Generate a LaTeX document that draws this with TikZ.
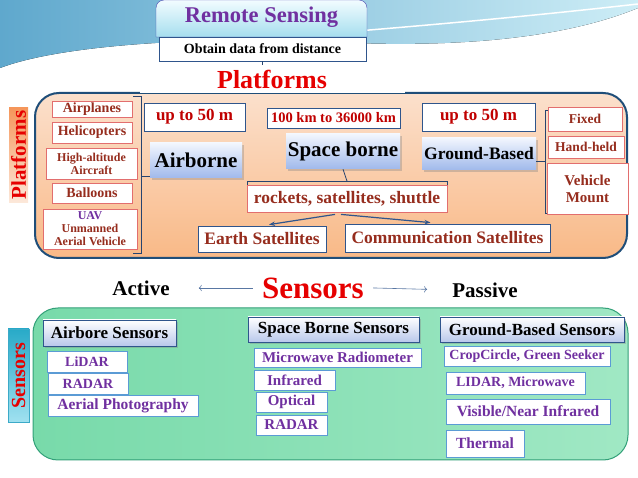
\documentclass[tikz,border=0pt]{standalone}
\usepackage{fontspec}
\setmainfont{Liberation Serif}
\usetikzlibrary{shadows}
\usetikzlibrary{arrows.meta}
\definecolor{plred}{RGB}{150,45,30}
\definecolor{vivred}{RGB}{192,0,0}
\definecolor{tred}{RGB}{230,0,0}
\definecolor{tpurple}{RGB}{112,48,160}
\definecolor{frameblue}{RGB}{31,78,121}
\definecolor{boxblue}{RGB}{47,85,140}
\definecolor{pinkline}{RGB}{226,110,110}
\definecolor{skyline}{RGB}{91,155,213}
\definecolor{skyL}{RGB}{95,168,205}
\definecolor{skyR}{RGB}{205,237,246}
\definecolor{titletop}{RGB}{242,252,255}
\definecolor{titlebot}{RGB}{165,222,238}
\definecolor{gradin}{RGB}{160,185,235}
\definecolor{gradout}{RGB}{242,246,254}
\definecolor{headbot}{RGB}{185,200,235}
\definecolor{peachtop}{RGB}{251,224,204}
\definecolor{peachmid}{RGB}{250,205,170}
\definecolor{peachbot}{RGB}{249,185,135}
\definecolor{plabtop}{RGB}{245,150,90}
\definecolor{plabbot}{RGB}{252,232,218}
\definecolor{greenline}{RGB}{50,160,120}
\definecolor{greenL}{RGB}{120,218,170}
\definecolor{greenM}{RGB}{30,185,118}
\definecolor{greenR}{RGB}{160,232,196}
\definecolor{slabline}{RGB}{60,170,200}
\definecolor{slabtop}{RGB}{40,170,200}
\definecolor{slabbot}{RGB}{160,225,240}
\tikzset{fs/.style={font=\bfseries\fontsize{#1}{#1}\selectfont},
         every node/.style={align=center,inner sep=0pt},
         wbox/.style={draw=boxblue,fill=white,line width=0.8pt},
         pbox/.style={draw=pinkline,fill=white,line width=0.8pt,text=plred},
         sbox/.style={draw=skyline,fill=white,line width=0.8pt,text=tpurple},
         gradbox/.style={top color=gradout,bottom color=gradin,
                         drop shadow={opacity=0.35,shadow xshift=2pt,shadow yshift=-2pt}},
         headbox/.style={draw=boxblue,line width=0.8pt,top color=white,bottom color=headbot,
                         drop shadow={opacity=0.35,shadow xshift=2pt,shadow yshift=-2pt}},
         link/.style={draw=boxblue!80!black,line width=0.8pt},
         arr/.style={-{Stealth[length=6pt]},draw=boxblue,line width=1.2pt},
         thinarr/.style={-{To[length=3pt]},draw=boxblue!80,line width=0.6pt},
         }
\begin{document}
\begin{tikzpicture}[x=1pt,y=-1pt]
\useasboundingbox (0,0) rectangle (638,478);
\fill[left color=skyL,right color=skyR]
  (0,0) -- (638,0) -- (638,8) .. controls (560,40) and (450,48) .. (330,42)
  .. controls (200,36) and (60,45) .. (0,68) -- cycle;
\draw[white,line width=1.5pt] (0,72) .. controls (120,42) and (320,40) .. (638,4);
\draw[draw=gray!60!blue,top color=titletop,bottom color=titlebot]
  (156,37) [rounded corners=8pt] -- (156,0) -- (367,0) [sharp corners] -- (367,37) -- cycle;
\node[fs=22.5,text=tpurple] (rs) at (261.5,17) {Remote Sensing};
\node[wbox,fs=14,minimum width=207,minimum height=24] (obtain) at (262.5,49) {Obtain data from distance};

\node[draw=frameblue,line width=2pt,rounded corners=24pt,minimum width=592,minimum height=165,
      top color=peachtop,middle color=peachmid,bottom color=peachbot]
      (pframe) at (331,175.5) {};
\node[fs=26,text=tred,fill=white,minimum width=265,minimum height=28] (ptitle) at (272,79) {Platforms};
\draw[link] (obtain.south) -- (obtain.south |- ptitle.north);
\node[fs=21,text=tred,rotate=90,minimum width=95,minimum height=19,
      top color=plabtop,bottom color=plabbot] (plabel) at (18.5,155) {Platforms};

\coordinate (lbr) at (141,176);
\draw[link] (133,96) -- (141,96) -- (141,253) -- (133,253);
\node[pbox,fs=14,minimum width=80,minimum height=16] (plane) at (92,109.5) {Airplanes};
\node[pbox,fs=14,minimum width=80,minimum height=21] (heli) at (92,132.5) {Helicopters};
\node[pbox,font=\bfseries\fontsize{12}{13}\selectfont,minimum width=91,minimum height=31] (high) at (91.5,163.5) {High-altitude\\Aircraft};
\node[pbox,fs=14,minimum width=80,minimum height=20] (ball) at (92,193) {Balloons};
\node[pbox,font=\bfseries\fontsize{12}{13}\selectfont,minimum width=94,minimum height=40] (uav) at (90,229)
     {\textcolor{tpurple}{UAV}\\Unmanned\\Aerial Vehicle};

\node[wbox,fs=17,text=vivred,minimum width=101,minimum height=28] (up1) at (194.5,117) {up to 50 m};
\node[gradbox,fs=21,minimum width=92,minimum height=35] (airb) at (196,160.5) {Airborne};
\draw[link] (lbr) -- (lbr -| airb.west);

\node[wbox,fs=14.5,text=vivred,minimum width=133,minimum height=20] (km) at (333.5,118) {100 km to 36000 km};
\node[gradbox,fs=21,minimum width=114,minimum height=35] (sb) at (343,151.5) {Space borne};
\coordinate (sbr) at (347,181);
\draw[link] (sb.south) -- (sbr);
\draw[link] (247,187) -- (247,181) -- (447,181) -- (447,187);
\node[pbox,fs=17.5,minimum width=200,minimum height=27] (rock) at (347,198.5) {rockets, satellites, shuttle};
\node[wbox,fs=17.5,text=plred,minimum width=128,minimum height=26] (earth) at (262,239) {Earth Satellites};
\node[wbox,fs=17.5,text=plred,minimum width=205,minimum height=28] (comm) at (447.5,238) {Communication Satellites};
\draw[arr] ([xshift=-12pt,yshift=-2pt]rock.south) -- ([xshift=7pt,yshift=1pt]earth.north);
\draw[arr] ([xshift=-6pt,yshift=-2pt]rock.south) -- ([xshift=-17pt,yshift=1pt]comm.north);

\node[wbox,fs=17,text=vivred,minimum width=113,minimum height=28] (up2) at (478.5,117) {up to 50 m};
\node[gradbox,fs=17.5,minimum width=114,minimum height=32] (gb) at (479,154) {Ground-Based};
\coordinate (rbr) at (545,161);
\draw[link] (553,110) -- (545,110) -- (545,213) -- (553,213);
\draw[link] (rbr) -- (rbr -| gb.east);
\node[pbox,fs=13.5,minimum width=74,minimum height=24] (fixed) at (585,119) {Fixed};
\node[pbox,fs=13.5,minimum width=76,minimum height=22] (hand) at (586,147) {Hand-held};
\node[pbox,font=\bfseries\fontsize{15}{17}\selectfont,minimum width=81,minimum height=51] (veh) at (587.5,188.5) {Vehicle\\Mount};

\node[draw=greenline,line width=1pt,rounded corners=25pt,minimum width=595,minimum height=152,
      left color=greenL,middle color=greenM,right color=greenR]
      (sframe) at (330.5,384) {};
\node[fs=31,text=tred,fill=white,minimum width=124,minimum height=36] (sens) at (313,288) {Sensors};
\node[fs=21] (active) at (141,288) {Active};
\node[fs=21] (passive) at (485,290) {Passive};
\draw[thinarr,shorten <=-2pt,shorten >=29pt] (sens.west) -- (active.east);
\draw[thinarr,shorten <=-2pt,shorten >=25pt] (sens.east) -- (passive.west);
\node[fs=20,text=tred,rotate=90,minimum width=93,minimum height=21,draw=slabline,
      top color=slabtop,bottom color=slabbot] (slabel) at (18.5,375.5) {Sensors};

\node[headbox,fs=17,minimum width=133,minimum height=26] (as) at (109.5,333) {Airbore Sensors};
\node[sbox,fs=14,minimum width=80,minimum height=21] (lidar) at (87,361.5) {LiDAR};
\node[sbox,fs=14,minimum width=80,minimum height=21] (radar) at (88,383.5) {RADAR};
\node[sbox,fs=15.5,minimum width=150,minimum height=21] (aerial) at (123,405.5) {Aerial Photography};

\node[headbox,fs=17,minimum width=171,minimum height=25] (ss) at (333.5,329.5) {Space Borne Sensors};
\node[sbox,fs=15,minimum width=167,minimum height=19] (micro) at (337.5,357.5) {Microwave Radiometer};
\node[sbox,fs=15,minimum width=81,minimum height=20] (infra) at (294.5,380) {Infrared};
\node[sbox,fs=15,minimum width=71,minimum height=20] (optic) at (291.5,402) {Optical};
\node[sbox,fs=15,minimum width=71,minimum height=20] (sradar) at (291.5,425) {RADAR};

\node[headbox,fs=17,minimum width=184,minimum height=25] (gs) at (532,329.5) {Ground-Based Sensors};
\node[sbox,fs=14,minimum width=166,minimum height=20] (crop) at (527,356) {CropCircle, Green Seeker};
\node[sbox,fs=14,minimum width=139,minimum height=22] (glidar) at (515.5,383) {LIDAR, Microwave};
\node[sbox,fs=15.5,minimum width=164,minimum height=25] (vis) at (528,411.5) {Visible/Near Infrared};
\node[sbox,fs=15.5,minimum width=78,minimum height=27] (therm) at (485,443.5) {Thermal};
\end{tikzpicture}
\end{document}
